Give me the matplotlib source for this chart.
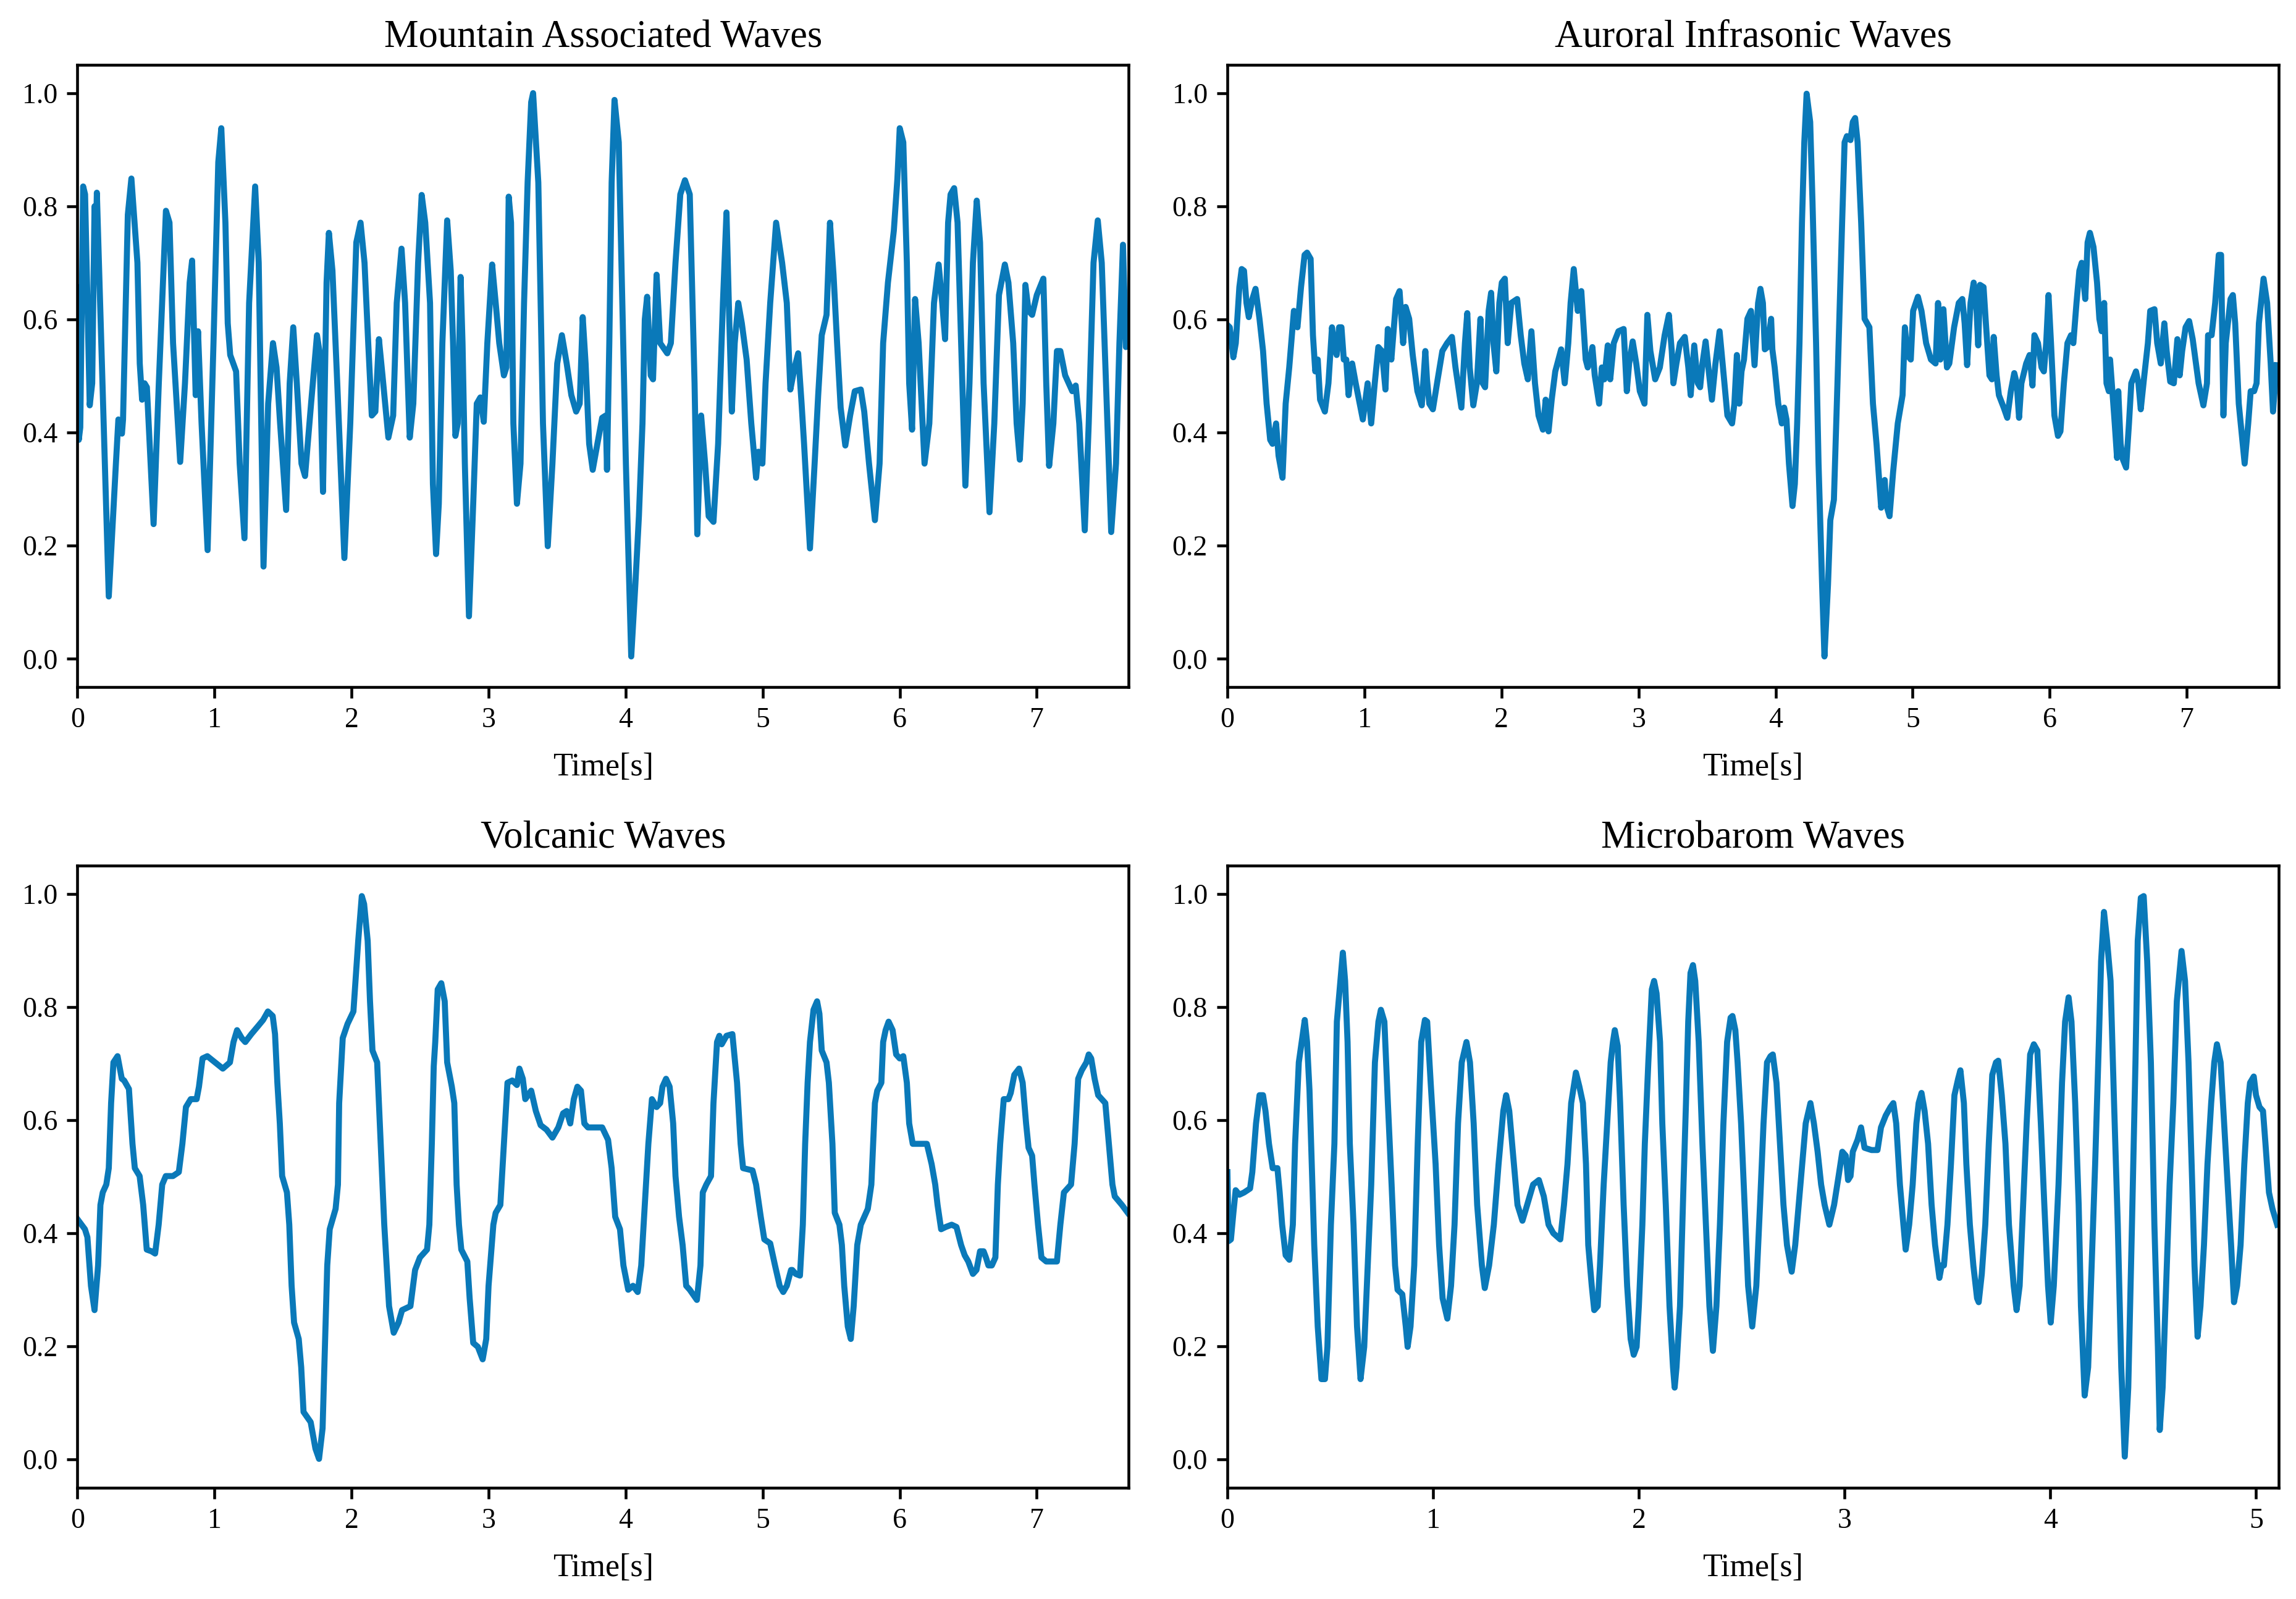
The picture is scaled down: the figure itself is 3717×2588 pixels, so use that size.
import matplotlib
matplotlib.use("Agg")
import matplotlib.pyplot as plt

# Mountain Associated Waves (top left)
mountain_t = [
    0, 0.01, 0.021, 0.042, 0.056, 0.090, 0.108, 0.125, 0.134, 0.142,
    0.229, 0.281, 0.299, 0.325, 0.333, 0.368, 0.394, 0.438, 0.455, 0.472,
    0.490, 0.507, 0.556, 0.594, 0.646, 0.672, 0.698, 0.75, 0.785, 0.819,
    0.837, 0.863, 0.880, 0.906, 0.950, 0.993, 1.028, 1.050, 1.080, 1.097,
    1.115, 1.158, 1.184, 1.219, 1.253, 1.297, 1.323, 1.358, 1.392, 1.427,
    1.453, 1.479, 1.523, 1.549, 1.575, 1.601, 1.635, 1.661, 1.705, 1.748,
    1.766, 1.792, 1.818, 1.835, 1.861, 1.896, 1.948, 1.991, 2.035, 2.066,
    2.095, 2.122, 2.148, 2.174, 2.2, 2.226, 2.269, 2.304, 2.330, 2.365,
    2.391, 2.425, 2.451, 2.486, 2.512, 2.538, 2.573,
    2.594, 2.617, 2.637, 2.663, 2.698, 2.724, 2.741, 2.758, 2.775, 2.796,
    2.810, 2.827, 2.857, 2.888, 2.914, 2.940, 2.965, 2.991, 3.026, 3.052,
    3.078, 3.112, 3.130, 3.147, 3.164, 3.181, 3.207, 3.233, 3.259, 3.285,
    3.311, 3.325, 3.363, 3.380, 3.397, 3.432, 3.466, 3.501, 3.535, 3.570,
    3.604, 3.639, 3.665, 3.687, 3.708, 3.734, 3.760, 3.794, 3.829, 3.855,
    3.864, 3.881, 3.898, 3.919, 3.950, 3.976, 4.002, 4.041, 4.071, 4.097,
    4.123, 4.140, 4.157, 4.183, 4.200, 4.226, 4.252, 4.304, 4.330, 4.364,
    4.399, 4.433, 4.468, 4.503, 4.523, 4.551, 4.580, 4.606, 4.641, 4.675,
    4.710, 4.736, 4.753, 4.775, 4.796, 4.822, 4.848, 4.883, 4.917, 4.952,
    4.969, 4.998, 5.021, 5.055, 5.098, 5.142, 5.176, 5.202,
    5.233, 5.259, 5.284, 5.302, 5.345, 5.379, 5.405, 5.431, 5.466, 5.491,
    5.517, 5.543, 5.569, 5.603, 5.638, 5.672, 5.716, 5.741, 5.776, 5.819,
    5.853, 5.879, 5.914, 5.957, 5.983, 6.0, 6.026, 6.052, 6.069, 6.090,
    6.112, 6.138, 6.181, 6.216, 6.25, 6.284, 6.310, 6.331, 6.353, 6.371,
    6.397, 6.422, 6.448, 6.479, 6.509, 6.534, 6.562, 6.586, 6.612, 6.655,
    6.690, 6.724, 6.767, 6.793, 6.828, 6.853, 6.876, 6.897, 6.917, 6.940,
    6.966, 7.0, 7.048, 7.069, 7.090, 7.121, 7.147, 7.172, 7.207, 7.259,
    7.284, 7.310, 7.350, 7.379, 7.414, 7.445, 7.474, 7.5, 7.543, 7.578,
    7.603, 7.629, 7.650, 7.669,
]
mountain_y = [
    0.657, 0.387, 0.409, 0.835, 0.821, 0.448, 0.487, 0.80, 0.728, 0.824,
    0.110, 0.345, 0.423, 0.398, 0.423, 0.785, 0.849, 0.700, 0.522, 0.458,
    0.487, 0.480, 0.238, 0.487, 0.792, 0.771, 0.558, 0.348, 0.487, 0.665,
    0.704, 0.466, 0.579, 0.416, 0.192, 0.558, 0.878, 0.938, 0.771, 0.593,
    0.537, 0.508, 0.345, 0.213, 0.629, 0.835, 0.700, 0.163, 0.451, 0.558,
    0.515, 0.416, 0.263, 0.487, 0.586, 0.487, 0.345, 0.323, 0.451, 0.572,
    0.544, 0.295, 0.665, 0.753, 0.686, 0.487, 0.178, 0.416, 0.736, 0.771,
    0.700, 0.558, 0.430, 0.437, 0.565, 0.501, 0.391, 0.430, 0.629, 0.725,
    0.629, 0.391, 0.451, 0.700, 0.82, 0.771, 0.629,
    0.309, 0.185, 0.274, 0.558, 0.775, 0.686, 0.558, 0.394, 0.416, 0.675,
    0.558, 0.345, 0.075, 0.274, 0.451, 0.462, 0.419, 0.558, 0.697, 0.629,
    0.558, 0.501, 0.515, 0.817, 0.771, 0.416, 0.274, 0.345, 0.629, 0.842,
    0.984, 1.0, 0.842, 0.629, 0.416, 0.199, 0.345, 0.522, 0.572, 0.522,
    0.466, 0.437, 0.451, 0.604, 0.522, 0.380, 0.334, 0.380, 0.426, 0.430,
    0.334, 0.558, 0.842, 0.988, 0.913, 0.629, 0.345, 0.004, 0.131, 0.252,
    0.416, 0.600, 0.640, 0.501, 0.494, 0.679, 0.558, 0.540, 0.558, 0.700,
    0.821, 0.846, 0.821, 0.487, 0.220, 0.430, 0.345, 0.252, 0.242, 0.380,
    0.629, 0.789, 0.629, 0.437, 0.558, 0.629, 0.593, 0.529, 0.416, 0.320,
    0.366, 0.345, 0.487, 0.629, 0.771, 0.700, 0.629, 0.476,
    0.515, 0.540, 0.451, 0.380, 0.195, 0.345, 0.466, 0.572, 0.608, 0.771,
    0.679, 0.558, 0.444, 0.377, 0.430, 0.473, 0.476, 0.437, 0.345, 0.245,
    0.345, 0.558, 0.665, 0.757, 0.849, 0.938, 0.913, 0.700, 0.487, 0.405,
    0.636, 0.558, 0.345, 0.416, 0.629, 0.697, 0.629, 0.565, 0.771, 0.821,
    0.832, 0.771, 0.558, 0.306, 0.487, 0.700, 0.810, 0.736, 0.487, 0.259,
    0.416, 0.643, 0.697, 0.665, 0.558, 0.416, 0.352, 0.451, 0.661, 0.615,
    0.608, 0.643, 0.672, 0.487, 0.341, 0.416, 0.544, 0.544, 0.501, 0.473,
    0.483, 0.416, 0.227, 0.416, 0.700, 0.775, 0.700, 0.522, 0.224, 0.345,
    0.558, 0.732, 0.551, 0.558,
]

# Auroral Infrasonic Waves (top right)
auroral_t = [
    0, 0.017, 0.043, 0.061, 0.087, 0.104, 0.121, 0.139, 0.156, 0.182,
    0.205, 0.234, 0.260, 0.286, 0.312, 0.329, 0.355, 0.373, 0.402, 0.425,
    0.451, 0.485, 0.511, 0.537, 0.563, 0.581, 0.607, 0.624, 0.641, 0.659,
    0.676, 0.711, 0.737, 0.763, 0.780, 0.797, 0.815, 0.832, 0.849, 0.867,
    0.884, 0.910, 0.936, 0.988, 1.023, 1.049, 1.075, 1.101, 1.127, 1.153,
    1.170, 1.196, 1.231, 1.256, 1.282, 1.300, 1.326, 1.352, 1.386, 1.418,
    1.444, 1.456, 1.473, 1.499, 1.534, 1.568, 1.603, 1.638, 1.664, 1.707,
    1.733, 1.750, 1.768, 1.794, 1.820, 1.846, 1.863, 1.880, 1.906, 1.924,
    1.941, 1.962, 1.984, 2.002, 2.024, 2.045, 2.071, 2.114, 2.140, 2.166,
    2.192, 2.218, 2.244, 2.270, 2.302, 2.322, 2.343, 2.366, 2.392, 2.435,
    2.461, 2.487, 2.504, 2.527, 2.556, 2.582, 2.614,
    2.629, 2.646, 2.663, 2.680, 2.712, 2.732, 2.750, 2.775, 2.793, 2.819,
    2.853, 2.891, 2.914, 2.931, 2.957, 2.983, 3.009, 3.043, 3.064, 3.086,
    3.121, 3.155, 3.190, 3.221, 3.242, 3.254, 3.276, 3.302, 3.337, 3.363,
    3.380, 3.406, 3.432, 3.449, 3.466, 3.489, 3.509, 3.535, 3.561, 3.591,
    3.613, 3.648, 3.682, 3.699, 3.717, 3.734, 3.751, 3.769, 3.794, 3.820,
    3.846, 3.872, 3.889, 3.907, 3.921, 3.941, 3.967, 3.976, 3.993, 4.019,
    4.045, 4.062, 4.079, 4.097, 4.123, 4.140, 4.157, 4.174, 4.192, 4.209,
    4.226, 4.252, 4.269, 4.295, 4.313, 4.339, 4.356, 4.382, 4.399, 4.425,
    4.451, 4.468, 4.485, 4.503, 4.520, 4.546, 4.563, 4.580, 4.598, 4.624,
    4.649, 4.684, 4.710, 4.736, 4.770, 4.796, 4.805, 4.831, 4.857, 4.891,
    4.926, 4.943, 4.960, 4.986, 5.003, 5.038, 5.064, 5.098, 5.133, 5.167,
    5.185, 5.202, 5.216,
    5.224, 5.250, 5.267, 5.302, 5.336, 5.362, 5.379, 5.397, 5.422, 5.445,
    5.466, 5.478, 5.491, 5.517, 5.534, 5.560, 5.578, 5.591, 5.612, 5.629,
    5.664, 5.690, 5.716, 5.741, 5.759, 5.776, 5.793, 5.828, 5.853, 5.874,
    5.888, 5.914, 5.940, 5.957, 5.974, 5.991, 6.009, 6.034, 6.060, 6.078,
    6.103, 6.129, 6.155, 6.172, 6.195, 6.216, 6.233, 6.259, 6.276, 6.293,
    6.319, 6.345, 6.362, 6.379, 6.397, 6.414, 6.431, 6.440, 6.457, 6.474,
    6.491, 6.5, 6.517, 6.534, 6.557, 6.578, 6.595, 6.629, 6.647, 6.664,
    6.690, 6.716, 6.733, 6.764, 6.784, 6.810, 6.836, 6.853, 6.879, 6.905,
    6.931, 6.948, 6.966, 6.991, 7.017, 7.043, 7.086, 7.121, 7.147, 7.155,
    7.181, 7.207, 7.233, 7.250, 7.267, 7.284, 7.319, 7.336, 7.353, 7.379,
    7.422, 7.448, 7.466, 7.491, 7.509, 7.526, 7.560, 7.586, 7.612, 7.629,
    7.655,
]
auroral_y = [
    0.590, 0.586, 0.533, 0.558, 0.657, 0.689, 0.686, 0.629, 0.604, 0.636,
    0.654, 0.601, 0.544, 0.451, 0.387, 0.380, 0.416, 0.359, 0.320, 0.451,
    0.515, 0.615, 0.586, 0.657, 0.714, 0.718, 0.707, 0.572, 0.508, 0.529,
    0.458, 0.437, 0.487, 0.586, 0.551, 0.537, 0.586, 0.586, 0.529, 0.529,
    0.466, 0.522, 0.487, 0.423, 0.487, 0.416, 0.487, 0.551, 0.544, 0.476,
    0.583, 0.529, 0.636, 0.650, 0.558, 0.622, 0.601, 0.537, 0.473, 0.448,
    0.544, 0.494, 0.451, 0.441, 0.494, 0.544, 0.558, 0.569, 0.515, 0.444,
    0.558, 0.611, 0.515, 0.448, 0.487, 0.601, 0.487, 0.480, 0.615, 0.647,
    0.558, 0.508, 0.629, 0.665, 0.672, 0.558, 0.629, 0.636, 0.572, 0.522,
    0.494, 0.579, 0.487, 0.430, 0.405, 0.458, 0.402, 0.458, 0.508, 0.547,
    0.487, 0.558, 0.629, 0.689, 0.615, 0.650, 0.529,
    0.515, 0.529, 0.551, 0.501, 0.451, 0.515, 0.494, 0.554, 0.494, 0.558,
    0.579, 0.583, 0.473, 0.522, 0.561, 0.522, 0.473, 0.451, 0.608, 0.544,
    0.494, 0.515, 0.572, 0.608, 0.544, 0.487, 0.522, 0.558, 0.569, 0.515,
    0.466, 0.554, 0.487, 0.480, 0.522, 0.561, 0.515, 0.458, 0.522, 0.579,
    0.522, 0.430, 0.416, 0.451, 0.537, 0.451, 0.508, 0.529, 0.601, 0.615,
    0.519, 0.629, 0.654, 0.629, 0.547, 0.551, 0.601, 0.547, 0.515, 0.451,
    0.416, 0.444, 0.423, 0.345, 0.270, 0.309, 0.416, 0.558, 0.771, 0.913,
    0.999, 0.949, 0.807, 0.558, 0.345, 0.131, 0.004, 0.131, 0.245, 0.281,
    0.487, 0.629, 0.771, 0.913, 0.924, 0.917, 0.949, 0.956, 0.913, 0.771,
    0.601, 0.586, 0.451, 0.380, 0.267, 0.316, 0.274, 0.252, 0.330, 0.416,
    0.466, 0.586, 0.537, 0.529, 0.615, 0.640, 0.615, 0.558, 0.529, 0.522,
    0.629, 0.529, 0.565,
    0.618, 0.515, 0.522, 0.586, 0.629, 0.636, 0.593, 0.519, 0.629, 0.665,
    0.615, 0.554, 0.661, 0.657, 0.593, 0.501, 0.494, 0.569, 0.501, 0.466,
    0.444, 0.426, 0.473, 0.505, 0.487, 0.426, 0.487, 0.522, 0.537, 0.483,
    0.572, 0.558, 0.515, 0.508, 0.558, 0.643, 0.558, 0.430, 0.394, 0.402,
    0.487, 0.558, 0.572, 0.558, 0.629, 0.686, 0.700, 0.636, 0.736, 0.753,
    0.728, 0.665, 0.601, 0.579, 0.629, 0.487, 0.473, 0.529, 0.473, 0.416,
    0.355, 0.473, 0.380, 0.352, 0.338, 0.416, 0.487, 0.508, 0.487, 0.441,
    0.501, 0.558, 0.615, 0.618, 0.558, 0.522, 0.593, 0.544, 0.490, 0.487,
    0.565, 0.501, 0.544, 0.586, 0.597, 0.565, 0.487, 0.448, 0.487, 0.572,
    0.572, 0.629, 0.714, 0.714, 0.430, 0.558, 0.636, 0.643, 0.593, 0.451,
    0.345, 0.416, 0.473, 0.473, 0.487, 0.593, 0.672, 0.629, 0.522, 0.437,
    0.519,
]

# Volcanic Waves (bottom left)
volcanic_t = [
    0, 0.055, 0.073, 0.099, 0.125, 0.151, 0.168, 0.185, 0.211, 0.229,
    0.246, 0.263, 0.293, 0.324, 0.341, 0.376, 0.402, 0.419, 0.454, 0.480,
    0.506, 0.541, 0.567, 0.593, 0.619, 0.645, 0.697, 0.740, 0.766, 0.792,
    0.827, 0.870, 0.887, 0.913, 0.948, 1.061, 1.113, 1.139, 1.165, 1.199,
    1.225, 1.269, 1.321, 1.355, 1.390, 1.425, 1.442, 1.459, 1.477, 1.494,
    1.529, 1.546, 1.563, 1.581, 1.615, 1.633, 1.650, 1.702, 1.737, 1.763,
    1.789, 1.806, 1.823, 1.841, 1.884, 1.901, 1.910, 1.936, 1.971, 2.014,
    2.049, 2.075, 2.092, 2.118, 2.135, 2.153, 2.187, 2.213, 2.239, 2.274,
    2.308, 2.343, 2.369, 2.430, 2.464, 2.499, 2.551, 2.568, 2.586, 2.600,
    2.611, 2.629, 2.655, 2.680, 2.698, 2.732, 2.750, 2.767, 2.784, 2.801,
    2.845, 2.862, 2.888, 2.922, 2.957, 2.983, 3.0, 3.035, 3.052, 3.086,
    3.112, 3.138, 3.173, 3.207, 3.225, 3.250, 3.268, 3.311, 3.345, 3.380,
    3.423, 3.466, 3.509, 3.544, 3.570, 3.596, 3.622, 3.648, 3.674, 3.699,
    3.725, 3.829, 3.872, 3.898, 3.924, 3.959, 3.984, 4.019, 4.054, 4.088,
    4.114, 4.140, 4.166, 4.192, 4.226, 4.252, 4.269, 4.295, 4.321, 4.347,
    4.364, 4.390, 4.416, 4.442, 4.468, 4.520, 4.546, 4.563, 4.589, 4.623,
    4.641, 4.667, 4.684, 4.701, 4.736, 4.779, 4.813, 4.839, 4.857, 4.926,
    4.952, 4.986, 5.012, 5.055, 5.090, 5.124, 5.150, 5.176, 5.207,
    5.216, 5.241, 5.272, 5.293, 5.310, 5.328, 5.345, 5.371, 5.397, 5.414,
    5.431, 5.466, 5.483, 5.509, 5.526, 5.560, 5.578, 5.595, 5.621, 5.643,
    5.664, 5.690, 5.716, 5.767, 5.793, 5.819, 5.836, 5.866, 5.879, 5.897,
    5.919, 5.948, 5.974, 6.0, 6.026, 6.052, 6.069, 6.095, 6.198, 6.233,
    6.259, 6.276, 6.302, 6.336, 6.379, 6.414, 6.448, 6.474, 6.5, 6.534,
    6.560, 6.586, 6.612, 6.629, 6.647, 6.672, 6.698, 6.716, 6.733, 6.759,
    6.793, 6.810, 6.836, 6.871, 6.897, 6.922, 6.940, 6.966, 6.983, 7.009,
    7.034, 7.069, 7.103, 7.147, 7.172, 7.198, 7.224, 7.250, 7.276, 7.302,
    7.328, 7.362, 7.379, 7.397, 7.422, 7.448, 7.5, 7.526, 7.552, 7.569,
    7.621, 7.664,
]
volcanic_y = [
    0.425, 0.407, 0.393, 0.307, 0.264, 0.343, 0.450, 0.472, 0.486, 0.515,
    0.630, 0.702, 0.713, 0.673, 0.670, 0.655, 0.558, 0.515, 0.501, 0.450,
    0.371, 0.368, 0.364, 0.415, 0.486, 0.501, 0.501, 0.508, 0.558, 0.623,
    0.637, 0.637, 0.659, 0.709, 0.713, 0.691, 0.702, 0.738, 0.759, 0.745,
    0.738, 0.752, 0.767, 0.777, 0.792, 0.784, 0.752, 0.666, 0.594, 0.501,
    0.472, 0.415, 0.307, 0.242, 0.213, 0.163, 0.084, 0.066, 0.019, 0.001,
    0.055, 0.199, 0.343, 0.407, 0.443, 0.486, 0.630, 0.745, 0.770, 0.792,
    0.917, 0.996, 0.982, 0.917, 0.810, 0.723, 0.702, 0.558, 0.415, 0.271,
    0.224, 0.242, 0.264, 0.271, 0.335, 0.357, 0.371, 0.415, 0.558, 0.695,
    0.738, 0.831, 0.842, 0.810, 0.702, 0.659, 0.630, 0.486, 0.415, 0.371,
    0.350, 0.285, 0.206, 0.199, 0.177, 0.213, 0.307, 0.415, 0.436, 0.450,
    0.558, 0.666, 0.670, 0.662, 0.691, 0.673, 0.637, 0.652, 0.616, 0.591,
    0.583, 0.569, 0.587, 0.612, 0.616, 0.594, 0.637, 0.659, 0.652, 0.594,
    0.587, 0.587, 0.565, 0.515, 0.429, 0.407, 0.343, 0.300, 0.307, 0.296,
    0.343, 0.450, 0.558, 0.637, 0.623, 0.630, 0.659, 0.673, 0.659, 0.594,
    0.501, 0.429, 0.379, 0.307, 0.300, 0.282, 0.343, 0.472, 0.486, 0.501,
    0.630, 0.738, 0.749, 0.734, 0.749, 0.752, 0.666, 0.558, 0.515, 0.511,
    0.486, 0.429, 0.389, 0.382, 0.343, 0.307, 0.296, 0.307, 0.335,
    0.335, 0.328, 0.325, 0.415, 0.558, 0.666, 0.738, 0.795, 0.810, 0.788,
    0.723, 0.702, 0.666, 0.558, 0.436, 0.415, 0.379, 0.307, 0.235, 0.213,
    0.271, 0.379, 0.415, 0.443, 0.486, 0.630, 0.652, 0.666, 0.738, 0.759,
    0.774, 0.759, 0.716, 0.709, 0.713, 0.666, 0.594, 0.558, 0.558, 0.522,
    0.486, 0.450, 0.407, 0.411, 0.415, 0.411, 0.379, 0.361, 0.350, 0.328,
    0.335, 0.368, 0.368, 0.357, 0.343, 0.343, 0.357, 0.486, 0.558, 0.637,
    0.637, 0.648, 0.680, 0.691, 0.666, 0.594, 0.551, 0.537, 0.486, 0.415,
    0.357, 0.350, 0.350, 0.350, 0.415, 0.472, 0.479, 0.486, 0.558, 0.673,
    0.688, 0.702, 0.716, 0.709, 0.673, 0.644, 0.630, 0.558, 0.486, 0.465,
    0.450, 0.436,
]

# Microbarom Waves (bottom right)
microbarom_t = [
    0, 0.006, 0.017, 0.029, 0.040, 0.058, 0.081, 0.110, 0.121, 0.139,
    0.156, 0.173, 0.185, 0.202, 0.220, 0.243, 0.254, 0.266, 0.283, 0.301,
    0.318, 0.329, 0.347, 0.361, 0.376, 0.387, 0.399, 0.410, 0.422, 0.439,
    0.457, 0.474, 0.486, 0.503, 0.520, 0.532, 0.549, 0.561, 0.572, 0.584,
    0.595, 0.613, 0.630, 0.647, 0.665, 0.682, 0.699, 0.717, 0.734, 0.746,
    0.763, 0.780, 0.798, 0.815, 0.827, 0.850, 0.867, 0.876, 0.890, 0.908,
    0.925, 0.942, 0.960, 0.971, 0.988, 1.012, 1.029, 1.046, 1.069, 1.087,
    1.104, 1.121, 1.139, 1.162, 1.179, 1.197, 1.214, 1.237, 1.251, 1.272,
    1.295, 1.318, 1.341, 1.355, 1.370, 1.387, 1.410, 1.434, 1.457, 1.486,
    1.514, 1.538, 1.561, 1.584, 1.618, 1.636, 1.653, 1.671, 1.694, 1.711,
    1.728, 1.743,
    1.754, 1.771, 1.783, 1.800, 1.811, 1.829, 1.846, 1.863, 1.874, 1.883,
    1.897, 1.909, 1.926, 1.943, 1.960, 1.975, 1.989, 2.0, 2.017, 2.029,
    2.046, 2.063, 2.074, 2.086, 2.103, 2.114, 2.131, 2.149, 2.166, 2.174,
    2.183, 2.2, 2.217, 2.229, 2.240, 2.251, 2.263, 2.274, 2.291, 2.309,
    2.326, 2.343, 2.36, 2.377, 2.394, 2.411, 2.429, 2.446, 2.455, 2.469,
    2.48, 2.497, 2.514, 2.531, 2.551, 2.571, 2.589, 2.606, 2.623, 2.64,
    2.651, 2.669, 2.686, 2.703, 2.72, 2.743, 2.76, 2.777, 2.794, 2.811,
    2.834, 2.851, 2.869, 2.886, 2.903, 2.926, 2.949, 2.971, 2.989, 3.006,
    3.017, 3.029, 3.040, 3.063, 3.080, 3.097, 3.131, 3.160, 3.177, 3.2,
    3.223, 3.237, 3.251, 3.269, 3.286, 3.297, 3.314, 3.331, 3.349, 3.36,
    3.374, 3.389, 3.406, 3.423, 3.44, 3.461, 3.472,
    3.483, 3.5, 3.517, 3.534, 3.552, 3.563, 3.580, 3.592, 3.609, 3.626,
    3.644, 3.652, 3.667, 3.684, 3.701, 3.718, 3.736, 3.747, 3.764, 3.782,
    3.799, 3.822, 3.836, 3.851, 3.868, 3.885, 3.902, 3.920, 3.937, 3.954,
    3.971, 3.989, 4.002, 4.017, 4.040, 4.057, 4.072, 4.089, 4.103, 4.121,
    4.138, 4.149, 4.167, 4.184, 4.201, 4.218, 4.236, 4.247, 4.261, 4.276,
    4.293, 4.310, 4.328, 4.345, 4.362, 4.379, 4.397, 4.414, 4.425, 4.440,
    4.454, 4.471, 4.489, 4.506, 4.523, 4.532, 4.546, 4.563, 4.580, 4.598,
    4.615, 4.638, 4.655, 4.672, 4.690, 4.701, 4.716, 4.730, 4.747, 4.764,
    4.782, 4.797, 4.810, 4.828, 4.845, 4.862, 4.879, 4.893, 4.908, 4.925,
    4.943, 4.960, 4.971, 4.989, 5.0, 5.017, 5.034, 5.046, 5.063, 5.080,
    5.103,
]
microbarom_y = [
    0.508, 0.386, 0.389, 0.436, 0.476, 0.468, 0.472, 0.479, 0.508, 0.594,
    0.644, 0.644, 0.616, 0.558, 0.515, 0.515, 0.472, 0.415, 0.361, 0.353,
    0.415, 0.558, 0.702, 0.738, 0.777, 0.738, 0.652, 0.522, 0.379, 0.235,
    0.142, 0.142, 0.199, 0.415, 0.558, 0.774, 0.846, 0.896, 0.846, 0.738,
    0.558, 0.415, 0.235, 0.142, 0.199, 0.343, 0.486, 0.702, 0.774, 0.795,
    0.774, 0.630, 0.486, 0.343, 0.300, 0.292, 0.235, 0.199, 0.235, 0.343,
    0.558, 0.738, 0.777, 0.774, 0.666, 0.522, 0.379, 0.285, 0.249, 0.307,
    0.415, 0.594, 0.702, 0.738, 0.702, 0.594, 0.450, 0.343, 0.303, 0.343,
    0.415, 0.522, 0.616, 0.644, 0.616, 0.545, 0.450, 0.422, 0.450, 0.486,
    0.494, 0.465, 0.415, 0.400, 0.389, 0.450, 0.522, 0.630, 0.684, 0.659,
    0.630, 0.522,
    0.379, 0.307, 0.264, 0.271, 0.343, 0.486, 0.594, 0.702, 0.738, 0.759,
    0.731, 0.630, 0.450, 0.307, 0.213, 0.185, 0.199, 0.271, 0.415, 0.558,
    0.702, 0.831, 0.846, 0.824, 0.738, 0.594, 0.450, 0.271, 0.163, 0.127,
    0.163, 0.271, 0.486, 0.630, 0.774, 0.860, 0.874, 0.846, 0.738, 0.558,
    0.415, 0.271, 0.192, 0.271, 0.415, 0.594, 0.738, 0.781, 0.784, 0.759,
    0.702, 0.594, 0.450, 0.307, 0.235, 0.307, 0.450, 0.594, 0.702, 0.713,
    0.716, 0.666, 0.558, 0.450, 0.379, 0.332, 0.379, 0.450, 0.522, 0.594,
    0.630, 0.594, 0.544, 0.486, 0.450, 0.415, 0.450, 0.501, 0.544, 0.537,
    0.494, 0.501, 0.544, 0.565, 0.587, 0.551, 0.547, 0.547, 0.587, 0.608,
    0.623, 0.630, 0.594, 0.486, 0.415, 0.371, 0.415, 0.486, 0.594, 0.630,
    0.648, 0.616, 0.558, 0.450, 0.379, 0.321, 0.343,
    0.343, 0.415, 0.522, 0.644, 0.673, 0.688, 0.630, 0.522, 0.415, 0.343,
    0.285, 0.278, 0.328, 0.415, 0.558, 0.680, 0.702, 0.705, 0.644, 0.558,
    0.415, 0.307, 0.264, 0.307, 0.450, 0.594, 0.716, 0.734, 0.723, 0.594,
    0.450, 0.307, 0.242, 0.307, 0.486, 0.666, 0.774, 0.817, 0.774, 0.630,
    0.450, 0.271, 0.113, 0.163, 0.343, 0.522, 0.738, 0.881, 0.968, 0.917,
    0.846, 0.630, 0.415, 0.163, 0.005, 0.127, 0.415, 0.702, 0.917, 0.993,
    0.996, 0.881, 0.702, 0.415, 0.199, 0.052, 0.127, 0.307, 0.486, 0.630,
    0.810, 0.899, 0.846, 0.702, 0.486, 0.343, 0.217, 0.271, 0.379, 0.522,
    0.630, 0.702, 0.734, 0.702, 0.594, 0.486, 0.379, 0.278, 0.307, 0.379,
    0.522, 0.630, 0.666, 0.677, 0.644, 0.623, 0.616, 0.558, 0.472, 0.443,
    0.415,
]

titles = ["Mountain Associated Waves", "Auroral Infrasonic Waves",
          "Volcanic Waves", "Microbarom Waves"]
x_max = [7.67, 7.67, 7.67, 5.11]

plt.rcParams['font.family'] = ['Liberation Serif', 'DejaVu Serif']

fig, axes = plt.subplots(2, 2, figsize=(12.393, 8.627), dpi=300)
fig.subplots_adjust(left=0.0337, right=0.9922, bottom=0.0696, top=0.9594,
                    wspace=0.094, hspace=0.287)

series = [(mountain_t, mountain_y), (auroral_t, auroral_y),
          (volcanic_t, volcanic_y), (microbarom_t, microbarom_y)]

for ax, (t, y), title, xm in zip(axes.flat, series, titles, x_max):
    ax.plot(t, y, color='#0a79b9', linewidth=2.35, solid_joinstyle='round')
    ax.set_xlim(0, xm)
    ax.set_ylim(-0.05, 1.05)
    ax.set_yticks([0.0, 0.2, 0.4, 0.6, 0.8, 1.0])
    ax.set_title(title, fontsize=15, pad=7)
    ax.set_xlabel("Time[s]", fontsize=12.5, labelpad=7.5)
    ax.tick_params(labelsize=11, length=4.2, width=1.1)
    for sp in ax.spines.values():
        sp.set_linewidth(1.1)

fig.savefig("out.png", dpi=300)
